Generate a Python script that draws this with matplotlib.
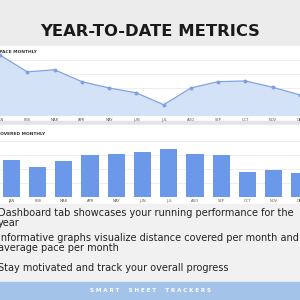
import matplotlib
matplotlib.use("Agg")
import matplotlib.pyplot as plt
from matplotlib.patches import Rectangle

# ---- data ----
MONTHS = ["JAN", "FEB", "MAR", "APR", "MAY", "JUN", "JUL", "AUG", "SEP", "OCT", "NOV", "DEC"]
pace = [8.7, 6.3, 6.6, 4.9, 4.0, 3.3, 1.6, 4.0, 4.9, 5.0, 4.1, 3.0]
distance = [53, 43, 51, 60, 61, 64, 69, 61, 60, 36, 39, 34]

TITLE = "YEAR-TO-DATE METRICS"
BULLETS = [
    "Dashboard tab showcases your running performance for the\nyear",
    "Informative graphs visualize distance covered per month and\naverage pace per month",
    "Stay motivated and track your overall progress",
]
FOOTER = "SMART SHEET TRACKERS"

W = H = 300


def px_axes(fig, left, top, width, height):
    """Add axes using pixel coords measured from the top-left corner."""
    return fig.add_axes([left / W, (H - top - height) / H, width / W, height / H])


fig = plt.figure(figsize=(3, 3), dpi=100)
fig.patch.set_facecolor("#efefef")

# background blocks
bg = px_axes(fig, 0, 0, 300, 300)
bg.set_xlim(0, 300)
bg.set_ylim(300, 0)
bg.axis("off")
bg.add_patch(Rectangle((0, 0), 300, 46, color="#ececec"))
bg.add_patch(Rectangle((0, 46), 300, 75, color="white"))
bg.add_patch(Rectangle((0, 121), 300, 4, color="#e4e4e4"))
bg.add_patch(Rectangle((0, 125), 300, 79, color="white"))
bg.add_patch(Rectangle((0, 204), 300, 78, color="#f1f1f1"))
bg.add_patch(Rectangle((0, 282), 300, 18, color="#a3c3e8"))

bg.text(150, 31, TITLE, ha="center", va="center", fontsize=11.8,
        color="#1a1a1a", fontweight="bold")
bg.text(37, 52, "AVERAGE PACE MONTHLY", ha="right", va="center",
        fontsize=3.2, fontweight="bold", color="#333333")
bg.text(45, 134, "DISTANCE COVERED MONTHLY", ha="right", va="center",
        fontsize=3.2, fontweight="bold", color="#333333")

bullet_y = [218, 243, 268]
for y, txt in zip(bullet_y, BULLETS):
    bg.text(-2, y, txt, ha="left", va="center", fontsize=7.0,
            color="#222222", linespacing=0.95)
bg.text(150, 291, "  ".join(FOOTER.split(" ")).replace("", " ").strip(),
        ha="center", va="center", fontsize=4, color="white", fontweight="bold")

# --- average pace line chart ---
ax1 = px_axes(fig, 0, 50, 300, 66)
xs = list(range(len(MONTHS)))
ax1.fill_between(xs, pace, 0, color="#d4e2f8", zorder=1)
ax1.plot(xs, pace, color="#7f9fe0", lw=0.8, marker="o", ms=1.8, zorder=2)
ax1.set_xlim(0.2, 10.23)
ax1.set_ylim(0, 66 / 7)
ax1.set_yticks([0, 2, 4, 6, 8])
ax1.set_xticks(xs)
ax1.set_xticklabels(MONTHS)
ax1.yaxis.grid(True, color="#e6e6e6", lw=0.5)
ax1.set_axisbelow(True)
ax1.tick_params(axis="x", length=0, labelsize=2.6, labelcolor="#555555", pad=1.5)
ax1.tick_params(axis="y", left=False, labelleft=False)
for s in ax1.spines.values():
    s.set_visible(False)
ax1.patch.set_alpha(0)

# --- distance covered bar chart ---
ax2 = px_axes(fig, 0, 135, 300, 62)
ax2.bar(xs, distance, width=0.66, color="#6b98e8", zorder=2)
ax2.set_xlim(-0.432, 10.85)
ax2.set_ylim(0, 62 / 14 * 20)
ax2.set_yticks([0, 20, 40, 60, 80])
ax2.set_xticks(xs)
ax2.set_xticklabels(MONTHS)
ax2.yaxis.grid(True, color="#e6e6e6", lw=0.5)
ax2.set_axisbelow(True)
ax2.tick_params(axis="x", length=0, labelsize=2.6, labelcolor="#555555", pad=1.5)
ax2.tick_params(axis="y", left=False, labelleft=False)
for s in ax2.spines.values():
    s.set_visible(False)
ax2.patch.set_alpha(0)

fig.savefig("out.png", dpi=100)
